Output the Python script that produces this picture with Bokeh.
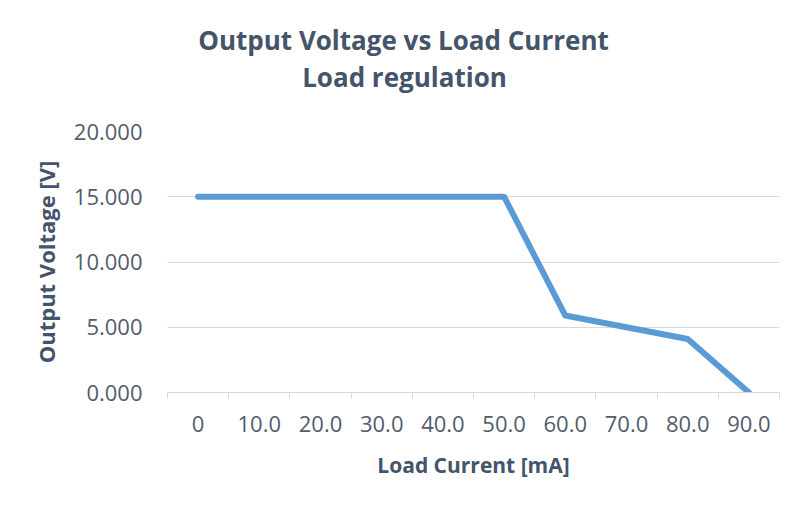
from bokeh.plotting import figure
from bokeh.layouts import column
from bokeh.models import FixedTicker, Range1d, NumeralTickFormatter
from bokeh.core.properties import value
from bokeh.embed import file_html
from bokeh.resources import INLINE

# ---- data ----
current_ma = [0, 10, 20, 30, 40, 50, 60, 70, 80, 90]
voltage_v = [15.0, 15.0, 15.0, 15.0, 15.0, 15.0, 5.9, 5.0, 4.1, 0.0]
x_tick_labels = ["0", "10.0", "20.0", "30.0", "40.0", "50.0", "60.0", "70.0", "80.0", "90.0"]
y_ticks = [0, 5, 10, 15, 20]
title_lines = ["Output Voltage vs Load Current", "Load regulation"]
x_label = "Load Current [mA]"
y_label = "Output Voltage [V]"

TXT = "#44546A"
TICK = "#525c6b"
GRID = "#D9D9D9"
LINE = "#5B9BD5"
FONT = "Open Sans"
W = 792
TITLE_H = 100
BL, BR = 167, 13          # left / right borders (frames of both figures align)

# ---- title strip (data units = page pixels) ----
tf = figure(width=W, height=TITLE_H, output_backend="svg", toolbar_location=None,
            x_axis_type=None, y_axis_type=None,
            min_border_left=BL, min_border_right=BR, min_border_top=0, min_border_bottom=0,
            x_range=Range1d(BL, W - BR), y_range=Range1d(TITLE_H, 0))
tf.outline_line_color = None
tf.grid.visible = False
tf.text(x=[403, 404], y=[39, 76], text=title_lines, text_align="center", text_baseline="middle",
        text_font=value(FONT), text_font_style="bold", text_font_size="26px", text_color=TXT)

# ---- main chart ----
step = current_ma[1] - current_ma[0]
edges = [c - step / 2 for c in current_ma] + [current_ma[-1] + step / 2]

p = figure(width=W, height=501 - TITLE_H, output_backend="svg", toolbar_location=None,
           x_range=Range1d(edges[0], edges[-1]), y_range=Range1d(y_ticks[0], y_ticks[-1]),
           min_border_left=BL, min_border_right=BR, min_border_top=131 - TITLE_H,
           min_border_bottom=109)
p.outline_line_color = None
p.background_fill_color = "white"
p.border_fill_color = "white"

p.line(current_ma, voltage_v, line_color=LINE, line_width=6, line_cap="round", line_join="round")

# x axis
xa = p.xaxis[0]
xa.ticker = FixedTicker(ticks=current_ma, minor_ticks=edges)
xa.major_label_overrides = {c: l for c, l in zip(current_ma, x_tick_labels)}
xa.major_tick_out = 0
xa.major_tick_in = 0
xa.minor_tick_out = 6
xa.minor_tick_in = 0
xa.minor_tick_line_color = GRID
xa.axis_line_color = GRID
xa.major_label_standoff = 17
xa.major_label_text_font = FONT
xa.major_label_text_font_size = "22px"
xa.major_label_text_color = TICK
xa.axis_label = x_label
xa.axis_label_text_font = FONT
xa.axis_label_text_font_style = "bold"
xa.axis_label_text_font_size = "21px"
xa.axis_label_text_color = TXT
xa.axis_label_standoff = 16

# y axis
ya = p.yaxis[0]
ya.ticker = FixedTicker(ticks=y_ticks)
ya.formatter = NumeralTickFormatter(format="0.000")
ya.axis_line_color = None
ya.major_tick_line_color = None
ya.minor_tick_line_color = None
ya.major_label_standoff = 19
ya.major_label_text_font = FONT
ya.major_label_text_font_size = "22px"
ya.major_label_text_color = TICK
ya.axis_label = y_label
ya.axis_label_text_font = FONT
ya.axis_label_text_font_style = "bold"
ya.axis_label_text_font_size = "22px"
ya.axis_label_text_color = TXT
ya.axis_label_standoff = 10

p.xgrid.grid_line_color = None
p.ygrid.grid_line_color = GRID
p.ygrid.grid_line_width = 1

layout = column(tf, p, spacing=0)
open("out.html", "w").write(file_html(layout, INLINE))
